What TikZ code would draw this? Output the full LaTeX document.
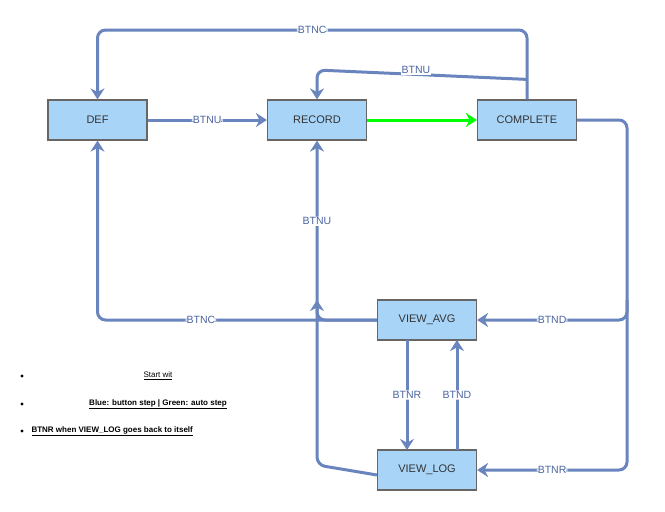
\documentclass[tikz,border=0pt]{standalone}
\usepackage{fontspec}
\setmainfont{Liberation Sans}
\usetikzlibrary{arrows.meta}
\definecolor{edge}{HTML}{6A84BE}
\definecolor{nfill}{HTML}{A8D4F8}
\definecolor{lbl}{HTML}{4A64A0}
\begin{document}
\begin{tikzpicture}[x=1pt,y=-1pt,
  st/.style={draw=black!60,line width=1.2pt,fill=nfill,minimum width=99pt,minimum height=40pt,inner sep=0pt,font=\fontsize{11}{13}\selectfont,text=black!80},
  e/.style={draw=edge,line width=3pt,rounded corners=8pt,-{Stealth[length=11pt,width=14pt]}},
  l/.style={fill=white,text=lbl,inner sep=1pt,font=\fontsize{10.5}{12}\selectfont},
  note/.style={font=\fontsize{8}{10}\selectfont\bfseries,anchor=west}]
\useasboundingbox (0,0) rectangle (665,512);
\node[st] (def) at (97.5,120) {DEF};
\node[st] (rec) at (317,120) {RECORD};
\node[st] (com) at (527,120) {COMPLETE};
\node[st] (avg) at (427,320) {VIEW\_AVG};
\node[st] (log) at (427,470) {VIEW\_LOG};
\draw[e] (com.north) -- (527,30) -- node[l,pos=0.5]{BTNC} (97.5,30) -- (def.north);
\draw[e] (com.north) ++(0,-20) -- (317,70) -- (rec.north);
\node[l] at (416,70) {BTNU};
\draw[e] (def) -- node[l]{BTNU} (rec);
\draw[draw=green,line width=3pt,-{Stealth[length=11pt,width=14pt]}] (rec) -- (com);
\draw[e] (com.east) -- (627,120) -- (627,320) -- node[l]{BTND} (avg.east);
\draw[e] (627,300) -- (627,470) -- node[l]{BTNR} (log.east);
\draw[e] (avg.west) -- node[l,pos=0.63]{BTNC} (97.5,320) -- (def.south);
\draw[e] (avg.west) -- (317,320) -- node[l,pos=0.55]{BTNU} (rec.south);
\draw[e] ([yshift=-5pt]log.west) -- (317,465) -- (317,300);
\draw[e] (407,340) -- node[l]{BTNR} (407,450);
\draw[e] (457,450) -- node[l]{BTND} (457,340);
\foreach \y in {376,404,431} \fill (22,\y) circle (1.6pt);
\node[font=\fontsize{8}{10}\selectfont] (n1) at (158,376) {\underline{Start wit}};
\node[font=\fontsize{8}{10}\selectfont\bfseries] (n2) at (158,404) {\underline{Blue: button step | Green: auto step}};
\node[note] (n3) at (28,431) {\underline{BTNR when VIEW\_LOG goes back to itself}};
\end{tikzpicture}
\end{document}
